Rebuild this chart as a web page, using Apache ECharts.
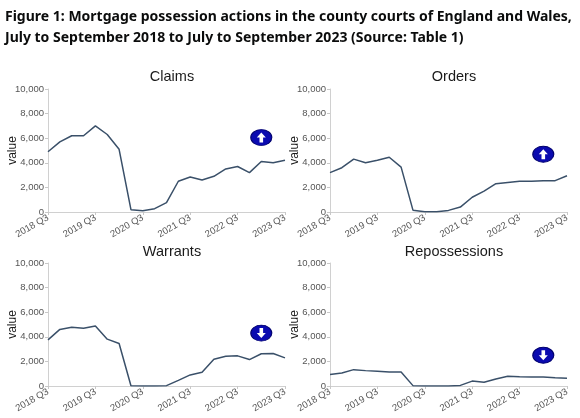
<!DOCTYPE html>
<html>
<head>
<meta charset="utf-8">
<script src="https://cdn.jsdelivr.net/npm/echarts@6/dist/echarts.min.js"></script>
<style>
html,body{margin:0;padding:0;background:#fff;}
#chart{width:580px;height:418px;}
</style>
</head>
<body>
<div id="chart"></div>
<script>
var quarters = ["2018 Q3","2018 Q4","2019 Q1","2019 Q2","2019 Q3","2019 Q4","2020 Q1","2020 Q2","2020 Q3","2020 Q4","2021 Q1","2021 Q2","2021 Q3","2021 Q4","2022 Q1","2022 Q2","2022 Q3","2022 Q4","2023 Q1","2023 Q2","2023 Q3"];
var yTicks = [0, 2000, 4000, 6000, 8000, 10000];
var panelTitles = ["Claims", "Orders", "Warrants", "Repossessions"];
var claims = [4900,5700,6200,6200,7000,6300,5100,190,100,270,760,2500,2850,2600,2900,3500,3700,3200,4100,4000,4200];
var orders = [3200,3600,4300,4000,4200,4450,3650,150,30,20,130,400,1200,1700,2300,2400,2500,2500,2550,2550,2950];
var warrants = [3750,4600,4770,4700,4880,3810,3460,20,10,10,30,460,900,1120,2180,2420,2450,2150,2620,2640,2290];
var repossessions = [930,1060,1330,1250,1200,1140,1140,30,10,10,10,50,400,300,570,790,760,740,740,680,630];
var arrowQuarter = ["2023 Q1","2023 Q1","2023 Q1","2023 Q1"];
var arrowValue = [6050, 4700, 4300, 2500];
var arrowDir = ["up","up","down","down"];

var seriesData = [claims, orders, warrants, repossessions];
var grids = [
  {left:48, right:295, top:89, bottom:206, outerBoundsMode:'none', containLabel:false},
  {left:330, right:13, top:89, bottom:206, outerBoundsMode:'none', containLabel:false},
  {left:48, right:295, top:263, bottom:32, outerBoundsMode:'none', containLabel:false},
  {left:330, right:13, top:263, bottom:32, outerBoundsMode:'none', containLabel:false}
];
var titleCenters = [[167,64],[449,64],[167,239],[449,239]];
var upPath = 'path://M5,0 L10,5 L7,5 L7,10 L3,10 L3,5 L0,5 Z';
var downPath = 'path://M5,10 L10,5 L7,5 L7,0 L3,0 L3,5 L0,5 Z';

var chart = echarts.init(document.getElementById('chart'));
var titles = [{
  text: "Figure 1: Mortgage possession actions in the county courts of England and Wales,\nJuly to September 2018 to July to September 2023 (Source: Table 1)",
  left: 0, top: 2,
  textStyle: {fontFamily: "Noto Sans", fontWeight: "bold", fontSize: 14, color: "#0b0c0c", lineHeight: 21}
}];
var xAxes = [], yAxes = [], series = [];
for (var i = 0; i < 4; i++) {
  titles.push({
    text: panelTitles[i], left: titleCenters[i][0], top: titleCenters[i][1], textAlign: 'center',
    textStyle: {fontFamily: "Liberation Sans", fontWeight: "normal", fontSize: 14.5, color: "#1a1a1a"}
  });
  xAxes.push({
    type: 'category', gridIndex: i, data: quarters, boundaryGap: false,
    axisLine: {lineStyle: {color: '#d0d0d0'}},
    axisTick: {show: true, interval: 3, length: 3, lineStyle: {color: '#c8c8c8'}},
    axisLabel: {interval: 3, rotate: 30, fontSize: 9.5, color: '#555', fontFamily: "Liberation Sans", margin: 5},
    splitLine: {show: false}
  });
  yAxes.push({
    type: 'value', gridIndex: i, min: 0, max: 10000, interval: 2000,
    name: 'value', nameLocation: 'middle', nameGap: 29, nameMoveOverlap: false,
    nameTextStyle: {fontFamily: "Liberation Sans", fontSize: 12, color: '#1a1a1a'},
    axisLine: {show: true, lineStyle: {color: '#d0d0d0'}},
    axisTick: {show: true, length: 3, lineStyle: {color: '#c8c8c8'}},
    axisLabel: {fontSize: 9.5, color: '#555', fontFamily: "Liberation Sans", margin: 4,
      formatter: function (v) { return yTicks.indexOf(v) >= 0 ? v.toLocaleString('en-GB') : ''; }},
    splitLine: {show: false}
  });
  series.push({
    type: 'line', xAxisIndex: i, yAxisIndex: i, data: seriesData[i],
    showSymbol: false, symbol: 'none', lineStyle: {color: '#3a5069', width: 1.5}, silent: true
  });
  series.push({
    type: 'scatter', xAxisIndex: i, yAxisIndex: i, data: [[arrowQuarter[i], arrowValue[i]]],
    symbol: 'circle', symbolSize: [21, 16],
    itemStyle: {color: '#0a0ab0', borderColor: '#00006e', borderWidth: 1, opacity: 1}, silent: true, z: 3
  });
  series.push({
    type: 'scatter', xAxisIndex: i, yAxisIndex: i, data: [[arrowQuarter[i], arrowValue[i]]],
    symbol: arrowDir[i] === 'up' ? upPath : downPath, symbolSize: [9, 10],
    itemStyle: {color: '#ffffff', opacity: 1}, silent: true, z: 4
  });
}
chart.setOption({
  animation: false,
  backgroundColor: '#ffffff',
  title: titles,
  grid: grids,
  xAxis: xAxes,
  yAxis: yAxes,
  series: series
});
</script>
</body>
</html>
